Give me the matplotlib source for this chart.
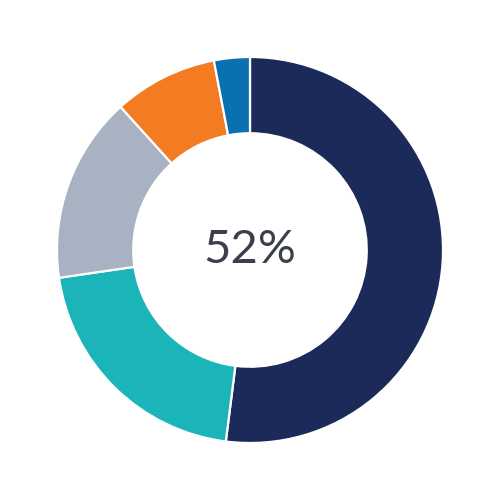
import matplotlib
matplotlib.use("Agg")
import matplotlib.pyplot as plt

labels = ["Navy", "Teal", "Grey", "Orange", "Blue"]
values = [52.0, 20.7, 15.6, 8.7, 3.0]
colors = ["#1b2a59", "#1bb4b8", "#a8b2c2", "#f37b21", "#0a71b0"]
center_text = "52%"

fig = plt.figure(figsize=(5, 5), dpi=100)
ax = fig.add_axes([0, 0, 1, 1])
ax.pie(values, colors=colors, startangle=90, counterclock=False, radius=1.0,
       wedgeprops=dict(width=0.395, edgecolor="white", linewidth=1.6))
lim = 250 / 193
ax.set_xlim(-lim, lim)
ax.set_ylim(-lim, lim)
ax.set_aspect("equal")
ax.axis("off")
ax.text(0, 0, center_text, ha="center", va="center", fontsize=34,
        family=["Lato", "DejaVu Sans"], color="#3a3f4a")
fig.savefig("out.png", dpi=100)
